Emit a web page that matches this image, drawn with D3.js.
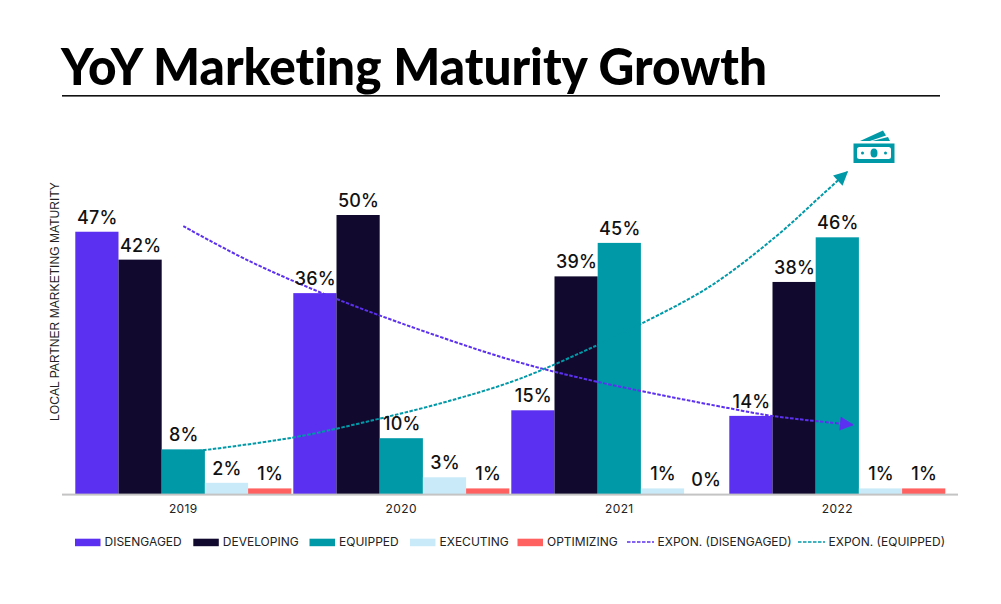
<!DOCTYPE html>
<html><head><meta charset="utf-8">
<script src="https://cdn.jsdelivr.net/npm/d3@7/dist/d3.min.js"></script>
<style>html,body{margin:0;padding:0;background:#fff}svg{display:block}</style></head>
<body><svg id="c" width="1001" height="604"></svg>
<script>
const titleText = "YoY Marketing Maturity Growth";
const yAxisLabel = "LOCAL PARTNER MARKETING MATURITY";
const years = ["2019","2020","2021","2022"];
const seriesNames = ["DISENGAGED","DEVELOPING","EQUIPPED","EXECUTING","OPTIMIZING"];
const colors = ["#5C30F0","#110A2E","#0099A8","#C9EBF9","#FF6060"];
const disengaged = [47,36,15,14];
const developing = [42,50,39,38];
const equipped = [8,10,45,46];
const executing = [2,3,1,1];
const optimizing = [1,1,0,1];
const seriesValues = [disengaged,developing,equipped,executing,optimizing];
const trendDisengagedLabel = "EXPON. (DISENGAGED)";
const trendEquippedLabel = "EXPON. (EQUIPPED)";
// trend readings: [position along the year axis (0 = 2019 centre), percent]
const trendDisengaged = [[0,48],[0.3,41.8],[0.7,35],[1.16,28.4],[1.54,23.6],[1.9,20.1],[2.5,15.4],[2.7,14],[3.07,12.4]];
const trendEquipped = [[0,7.4],[0.5,10.1],[0.9,13.5],[1.24,16.9],[1.54,20.6],[1.9,26.7],[2.1,30.5],[2.42,37.3],[2.72,46.2],[2.93,53.6],[3.045,57.7]];

const svg = d3.select("#c");
const x0 = d3.scaleBand().domain(years).range([75.3,945.3]).paddingInner(2/218).paddingOuter(0);
const x1 = d3.scaleBand().domain(seriesNames).range([0,x0.bandwidth()]);
const y = d3.scaleLinear().domain([0,50]).range([494,215]);
const xT = d3.scaleLinear().domain([0,3]).range([x0("2019")+x0.bandwidth()/2, x0("2022")+x0.bandwidth()/2]);

svg.append("text").attr("x",61).attr("y",85).attr("font-family","Lato").attr("font-weight",900)
  .attr("font-size",51).attr("textLength",706).attr("lengthAdjust","spacingAndGlyphs")
  .style("font-variant-ligatures","none").attr("fill","#000").text(titleText);
svg.append("rect").attr("x",62).attr("y",95).attr("width",878).attr("height",1.6).attr("fill","#111");

svg.append("text").attr("transform","translate(59,301.5) rotate(-90)").attr("text-anchor","middle")
  .attr("font-family","Liberation Sans").attr("font-size",12.1).attr("fill","#222").text(yAxisLabel);

seriesNames.forEach((s,i)=>{
  svg.append("g").selectAll("rect").data(seriesValues[i]).join("rect")
    .attr("x",(d,j)=>x0(years[j])+x1(s)).attr("width",x1.bandwidth())
    .attr("y",d=>y(d)).attr("height",d=>y(0)-y(d)).attr("fill",colors[i]);
});

const line = d3.line().x(d=>xT(d[0])).y(d=>y(d[1])).curve(d3.curveCatmullRom);
const defs = svg.append("defs");
[["a1",colors[0]],["a2",colors[2]]].forEach(([id,c])=>{
  defs.append("marker").attr("id",id).attr("viewBox","0 0 10 10").attr("refX",9).attr("refY",5)
    .attr("markerWidth",15).attr("markerHeight",14).attr("markerUnits","userSpaceOnUse").attr("orient","auto")
    .append("path").attr("d","M0,0L10,5L0,10Z").attr("fill",c);
});
[[trendDisengaged,colors[0],"a1"],[trendEquipped,colors[2],"a2"]].forEach(([t,c,m])=>{
  svg.append("path").datum(t).attr("d",line).attr("fill","none").attr("stroke",c).attr("stroke-width",2)
    .attr("stroke-dasharray","3.5 1.5").attr("marker-end",`url(#${m})`);
});

seriesNames.forEach((s,i)=>{
  svg.append("g").selectAll("text").data(seriesValues[i]).join("text")
    .attr("x",(d,j)=>x0(years[j])+x1(s)+x1.bandwidth()/2+0.5).attr("y",d=>y(d)-8)
    .attr("text-anchor","middle").attr("font-family","Inter").attr("font-weight",500).attr("font-size",18)
    .attr("letter-spacing",0.2).attr("fill","#111").text(d=>d+"%");
});

svg.append("rect").attr("x",62).attr("y",493.6).attr("width",896).attr("height",2).attr("fill","#c4c4c4");
const ax = svg.append("g").attr("transform","translate(0,494)").call(d3.axisBottom(x0).tickSize(0).tickPadding(10));
ax.select(".domain").remove();
ax.selectAll("text").attr("font-family","Inter").attr("font-size",12).attr("letter-spacing",0.4).attr("fill","#222");

const legendItems = [
 [seriesNames[0],75,colors[0],0],[seriesNames[1],193.3,colors[1],0],[seriesNames[2],309.5,colors[2],0],
 [seriesNames[3],410,colors[3],0],[seriesNames[4],517.5,colors[4],0],
 [trendDisengagedLabel,627,colors[0],1],[trendEquippedLabel,798,colors[2],1]];
const lg = svg.append("g");
legendItems.forEach(([t,lx,c,isLine])=>{
  if(isLine) lg.append("line").attr("x1",lx).attr("x2",lx+27).attr("y1",542).attr("y2",542).attr("stroke",c).attr("stroke-width",1.5).attr("stroke-dasharray","3.5 1.5");
  else lg.append("rect").attr("x",lx).attr("y",538.7).attr("width",25.5).attr("height",7.5).attr("fill",c);
  lg.append("text").attr("x",lx+(isLine?30.5:29.5)).attr("y",545.8).attr("font-family","Inter").attr("font-size",12).attr("fill","#222").text(t);
});

// money icon
const ic = svg.append("g").attr("fill","#0099A8");
ic.append("rect").attr("x",853.5).attr("y",143.5).attr("width",41).attr("height",19.5);
ic.append("rect").attr("x",857).attr("y",147).attr("width",34).attr("height",12).attr("rx",2.5).attr("fill","#fff");
ic.append("ellipse").attr("cx",874).attr("cy",153).attr("rx",3.5).attr("ry",4.5);
ic.append("circle").attr("cx",862.5).attr("cy",153).attr("r",1.5);
ic.append("circle").attr("cx",885.5).attr("cy",153).attr("r",1.5);
ic.append("path").attr("d","M860,141L883,130.5L886,135.5L870,141Z");
ic.append("path").attr("d","M872,141L888,137L890,141Z");
</script></body></html>
